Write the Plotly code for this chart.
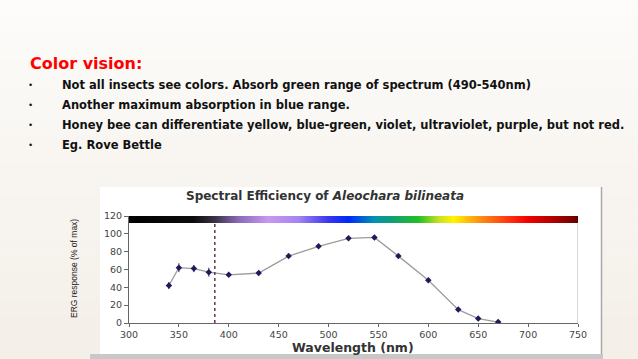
import plotly.graph_objects as go
import numpy as np

# ---- data ----
wavelength = [340, 350, 365, 380, 400, 430, 460, 490, 520, 546, 570, 600, 630, 650, 670]
erg_response = [42, 62, 61, 57, 54, 56, 75, 86, 95, 96, 75, 48, 15, 5, 1]
erg_error = [4, 5, 4, 5, 1, 1, 1, 1, 1, 1, 1, 1, 2, 1, 1]
uv_cutoff = 386
x_ticks = [300, 350, 400, 450, 500, 550, 600, 650, 700, 750]
y_ticks = [0, 20, 40, 60, 80, 100, 120]

spectrum_stops = [300, 365, 386, 410, 440, 470, 500, 520, 545, 565, 590, 610, 625, 650, 680, 700, 740, 750]
spectrum_colors = ["#000000", "#0c0c0c", "#3a3042", "#8a6ab8", "#c898f2", "#a484ef", "#3a36ee",
                   "#0028fa", "#0090b4", "#12a070", "#22c024", "#c4e024", "#fff400", "#ff9412",
                   "#ff3412", "#f00000", "#860000", "#5c0000"]

slide_title = "Color vision:"
bullets = [
    "Not all insects see colors. Absorb green range of spectrum (490-540nm)",
    "Another maximum absorption in blue range.",
    "Honey bee can differentiate yellow, blue-green, violet, ultraviolet, purple, but not red.",
    "Eg. Rove Bettle",
]

W, H = 638, 359
fig = go.Figure()

# spectrum bar (heatmap across the top of the plot)
lo, hi = spectrum_stops[0], spectrum_stops[-1]
bar_x = np.linspace(lo, hi, 451)
colorscale = [[(s - lo) / (hi - lo), c] for s, c in zip(spectrum_stops, spectrum_colors)]
fig.add_trace(go.Heatmap(x=bar_x, y=[112, 120], z=[bar_x], colorscale=colorscale,
                         zmin=lo, zmax=hi, showscale=False, hoverinfo="skip"))

# data line
fig.add_trace(go.Scatter(
    x=wavelength, y=erg_response, mode="lines+markers",
    line=dict(color="#9c9c9c", width=1.3),
    marker=dict(color="#1c1c5c", size=5, symbol="diamond"),
    error_y=dict(type="data", array=erg_error, visible=True, color="#2a2a5a", thickness=1, width=0),
    showlegend=False))

# UV cutoff dotted line
fig.add_shape(type="line", xref="x", yref="y", x0=uv_cutoff, x1=uv_cutoff, y0=0, y1=112,
              line=dict(color="#6a3050", width=1.5, dash="dot"))
# right frame line
fig.add_shape(type="line", xref="x", yref="y", x0=hi, x1=hi, y0=0, y1=112,
              line=dict(color="#b0b0b0", width=1))

shapes = []
# background gradient bands
n = 24
for i in range(n):
    t = i / (n - 1)
    r = int(253 - 9 * t); g = int(252 - 13 * t); b = int(250 - 18 * t)
    shapes.append(dict(type="rect", xref="paper", yref="paper", x0=0, x1=1,
                       y0=1 - (i + 1) / n, y1=1 - i / n, line=dict(width=0),
                       fillcolor=f"rgb({r},{g},{b})", layer="below"))
# white inset
shapes.append(dict(type="rect", xref="paper", yref="paper", x0=100 / W, x1=601 / W,
                   y0=1 - 354 / H, y1=1 - 187 / H, fillcolor="white", line=dict(width=0), layer="below"))
shapes.append(dict(type="line", xref="paper", yref="paper", x0=601.5 / W, x1=601.5 / W,
                   y0=1 - 354 / H, y1=1 - 187 / H, line=dict(color="#a8a8a8", width=1.5), layer="below"))
shapes.append(dict(type="rect", xref="paper", yref="paper", x0=90 / W, x1=603 / W,
                   y0=0, y1=1 - 354 / H, fillcolor="#c8c8c8", line=dict(width=0), layer="below"))
for s in shapes:
    fig.add_shape(**s)

ann = []
ann.append(dict(text=f"<b>{slide_title}</b>", x=28 / W, y=1 - 63 / H, xref="paper", yref="paper",
                xanchor="left", yanchor="middle", showarrow=False,
                font=dict(family="DejaVu Sans", size=16, color="#ff0000")))
for i, b in enumerate(bullets):
    yy = 1 - (85 + i * 20) / H
    ann.append(dict(text="•", x=31 / W, y=yy, xref="paper", yref="paper", xanchor="center",
                    yanchor="middle", showarrow=False,
                    font=dict(family="Liberation Sans, Arial", size=9, color="#111")))
    ann.append(dict(text=f"<b>{b}</b>", x=60 / W, y=yy, xref="paper", yref="paper", xanchor="left",
                    yanchor="middle", showarrow=False,
                    font=dict(family="DejaVu Sans", size=11.5, color="#111")))
ann.append(dict(text="<b>Spectral Efficiency of <i>Aleochara bilineata</i></b>", x=325 / W, y=1 - 196 / H,
                xref="paper", yref="paper", xanchor="center", yanchor="middle", showarrow=False,
                font=dict(family="DejaVu Sans", size=12, color="#333")))
ann.append(dict(text="<b>Wavelength (nm)</b>", x=353 / W, y=1 - 347.5 / H,
                xref="paper", yref="paper", xanchor="center", yanchor="middle", showarrow=False,
                font=dict(family="DejaVu Sans", size=12.5, color="#333")))
ann.append(dict(text="ERG response (% of max)", x=74 / W, y=1 - 269 / H, textangle=-90,
                xref="paper", yref="paper", xanchor="center", yanchor="middle", showarrow=False,
                font=dict(family="Liberation Sans", size=8.5, color="#222")))

fig.update_layout(
    width=W, height=H, margin=dict(l=0, r=0, t=0, b=0, pad=0, autoexpand=False),
    paper_bgcolor="#faf8f5", plot_bgcolor="white", showlegend=False,
    annotations=ann,
    xaxis=dict(domain=[129 / W, 578 / W], range=[300, 750], tickvals=x_ticks, showgrid=False,
               automargin=False,
               zeroline=False, showline=True, linecolor="#666", linewidth=1, ticks="outside",
               ticklen=3, tickcolor="#666", tickfont=dict(family="DejaVu Sans", size=9.5, color="#444")),
    yaxis=dict(domain=[1 - 323 / H, 1 - 216 / H], range=[0, 120], tickvals=y_ticks, showgrid=False,
               automargin=False,
               zeroline=False, showline=True, linecolor="#666", linewidth=1, ticks="outside",
               ticklen=4, tickcolor="#666", tickfont=dict(family="DejaVu Sans", size=9.5, color="#444")),
)

fig.write_html("out.html", config={"displayModeBar": False},
               post_script="document.body.style.margin='0';document.body.style.padding='0';"
                           "document.body.style.overflow='hidden';")
